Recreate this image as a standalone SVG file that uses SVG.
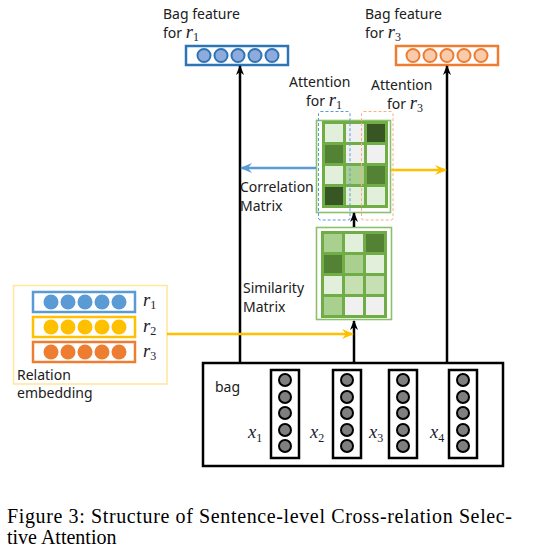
<svg xmlns="http://www.w3.org/2000/svg" width="555" height="553" viewBox="0 0 555 553">
<style>
.lbl{font-family:"Noto Sans","Liberation Sans",sans-serif;font-size:14px;fill:#202020}
.m{font-family:"Liberation Serif",serif;font-style:italic;font-size:18.5px;fill:#1a1a2e}
.sub{font-family:"Liberation Serif",serif;font-style:normal;font-size:12px}
.cap{font-family:"Liberation Serif","Times New Roman",serif;font-size:20px;fill:#000}
.blk{stroke:#000;stroke-width:2.5;fill:none}
.fr{fill:#70AD47}
.outer{fill:none;stroke:#8CC16B;stroke-width:1.6}
.c0{fill:#F0F0F0}.c1{fill:#E2EFDA}.c2{fill:#C6E0B4}.c3{fill:#A9D08E}.c4{fill:#548235}.c5{fill:#375623}
.sent{fill:#fff;stroke:#000;stroke-width:2.5}
.sc{fill:#7F7F7F;stroke:#000;stroke-width:2}
</style>
<defs>
<marker id="ah-k" viewBox="0 0 10 8" refX="9" refY="4" markerWidth="10" markerHeight="8" markerUnits="userSpaceOnUse" orient="auto"><path d="M0,0 L10,4 L0,8 L3,4 z" fill="#000"/></marker>
<marker id="ah-b" viewBox="0 0 12 10" refX="11" refY="5" markerWidth="12" markerHeight="10" markerUnits="userSpaceOnUse" orient="auto"><path d="M0,0 L12,5 L0,10 L4,5 z" fill="#5B9BD5"/></marker>
<marker id="ah-y" viewBox="0 0 12 10" refX="11" refY="5" markerWidth="12" markerHeight="10" markerUnits="userSpaceOnUse" orient="auto"><path d="M0,0 L12,5 L0,10 L4,5 z" fill="#FFC000"/></marker>
</defs>
<rect width="555" height="553" fill="#fff"/>

<g id="bag-feature-r1">
<text class="lbl" x="163" y="19">Bag feature</text>
<text class="lbl" x="163" y="38">for <tspan class="m">r</tspan><tspan class="m sub" dy="3">1</tspan></text>
<rect x="186" y="46" width="102" height="19" fill="#fff" stroke="#2E75B6" stroke-width="2.5"/>
<g fill="#8FAADC" stroke="#2E75B6" stroke-width="2">
<circle cx="204" cy="55.5" r="6.5"/><circle cx="221" cy="55.5" r="6.5"/><circle cx="238" cy="55.5" r="6.5"/><circle cx="255" cy="55.5" r="6.5"/><circle cx="272" cy="55.5" r="6.5"/>
</g>
</g>

<g id="bag-feature-r3">
<text class="lbl" x="365" y="19">Bag feature</text>
<text class="lbl" x="365" y="38">for <tspan class="m">r</tspan><tspan class="m sub" dy="3">3</tspan></text>
<rect x="396" y="46" width="102" height="19" fill="#fff" stroke="#ED7D31" stroke-width="2.5"/>
<g fill="#F8CBAD" stroke="#ED7D31" stroke-width="2">
<circle cx="413" cy="55.5" r="6.5"/><circle cx="430" cy="55.5" r="6.5"/><circle cx="447" cy="55.5" r="6.5"/><circle cx="464" cy="55.5" r="6.5"/><circle cx="481" cy="55.5" r="6.5"/>
</g>
</g>

<g id="correlation-matrix">
<rect class="outer" x="316.5" y="120.5" width="74" height="92"/>
<rect class="fr" x="322" y="121" width="66" height="87"/>
<rect class="c1" x="325" y="124" width="18" height="18"/><rect class="c0" x="346" y="124" width="18" height="18"/><rect class="c5" x="367" y="124" width="18" height="18"/>
<rect class="c4" x="325" y="145" width="18" height="18"/><rect class="c0" x="346" y="145" width="18" height="18"/><rect class="c0" x="367" y="145" width="18" height="18"/>
<rect class="c1" x="325" y="166" width="18" height="18"/><rect class="c3" x="346" y="166" width="18" height="18"/><rect class="c4" x="367" y="166" width="18" height="18"/>
<rect class="c5" x="325" y="187" width="18" height="18"/><rect class="c1" x="346" y="187" width="18" height="18"/><rect class="c1" x="367" y="187" width="18" height="18"/>
<text class="lbl" x="240" y="192">Correlation</text>
<text class="lbl" x="240" y="211">Matrix</text>
</g>

<g id="attention-r1">
<rect x="318.5" y="111.5" width="31.5" height="108.5" rx="2" fill="none" stroke="#5B9BD5" stroke-width="1" stroke-dasharray="3 2"/>
<text class="lbl" x="289" y="87">Attention</text>
<text class="lbl" x="306" y="106">for <tspan class="m">r</tspan><tspan class="m sub" dy="3">1</tspan></text>
</g>

<g id="attention-r3">
<rect x="361.5" y="111.5" width="31.5" height="108.5" rx="2" fill="none" stroke="#F4B183" stroke-width="1" stroke-dasharray="3 2"/>
<text class="lbl" x="371" y="90">Attention</text>
<text class="lbl" x="387" y="109">for <tspan class="m">r</tspan><tspan class="m sub" dy="3">3</tspan></text>
</g>

<g id="similarity-matrix">
<rect class="outer" x="316.5" y="227.5" width="75" height="92"/>
<rect class="fr" x="321" y="231" width="66" height="87"/>
<rect class="c3" x="324" y="234" width="18" height="18"/><rect class="c1" x="345" y="234" width="18" height="18"/><rect class="c4" x="366" y="234" width="18" height="18"/>
<rect class="c4" x="324" y="255" width="18" height="18"/><rect class="c3" x="345" y="255" width="18" height="18"/><rect class="c1" x="366" y="255" width="18" height="18"/>
<rect class="c1" x="324" y="276" width="18" height="18"/><rect class="c2" x="345" y="276" width="18" height="18"/><rect class="c2" x="366" y="276" width="18" height="18"/>
<rect class="c3" x="324" y="297" width="18" height="18"/><rect class="c0" x="345" y="297" width="18" height="18"/><rect class="c0" x="366" y="297" width="18" height="18"/>
<text class="lbl" x="243" y="293">Similarity</text>
<text class="lbl" x="243" y="312">Matrix</text>
</g>

<g id="relation-embedding">
<rect x="13.5" y="285.5" width="153.5" height="98.5" fill="none" stroke="#FFE699" stroke-width="1.5"/>
<rect x="33" y="292" width="102" height="20" fill="#fff" stroke="#5B9BD5" stroke-width="2.5"/>
<g fill="#5B9BD5"><circle cx="51" cy="302" r="7.5"/><circle cx="68" cy="302" r="7.5"/><circle cx="85" cy="302" r="7.5"/><circle cx="102" cy="302" r="7.5"/><circle cx="119" cy="302" r="7.5"/></g>
<rect x="33" y="317" width="102" height="20" fill="#fff" stroke="#FFC000" stroke-width="2.5"/>
<g fill="#FFC000"><circle cx="51" cy="327" r="7.5"/><circle cx="68" cy="327" r="7.5"/><circle cx="85" cy="327" r="7.5"/><circle cx="102" cy="327" r="7.5"/><circle cx="119" cy="327" r="7.5"/></g>
<rect x="33" y="342" width="102" height="20" fill="#fff" stroke="#ED7D31" stroke-width="2.5"/>
<g fill="#ED7D31"><circle cx="51" cy="352" r="7.5"/><circle cx="68" cy="352" r="7.5"/><circle cx="85" cy="352" r="7.5"/><circle cx="102" cy="352" r="7.5"/><circle cx="119" cy="352" r="7.5"/></g>
<text class="m" x="143" y="306">r<tspan class="sub" dy="3">1</tspan></text>
<text class="m" x="143" y="332">r<tspan class="sub" dy="3">2</tspan></text>
<text class="m" x="143" y="357">r<tspan class="sub" dy="3">3</tspan></text>
<text class="lbl" x="17" y="380">Relation</text>
<text class="lbl" x="17" y="398">embedding</text>
</g>

<g id="bag">
<rect x="203" y="363" width="300" height="103" fill="#fff" stroke="#000" stroke-width="2.5"/>
<text class="lbl" x="215" y="392">bag</text>
<g id="x1">
<rect class="sent" x="271" y="370" width="28" height="88"/>
<circle class="sc" cx="285" cy="380" r="6"/><circle class="sc" cx="285" cy="397" r="6"/><circle class="sc" cx="285" cy="413" r="6"/><circle class="sc" cx="285" cy="430" r="6"/><circle class="sc" cx="285" cy="446" r="6"/>
<text class="m" x="248" y="438">x<tspan class="sub" dy="4">1</tspan></text>
</g>
<g id="x2">
<rect class="sent" x="333" y="370" width="28" height="88"/>
<circle class="sc" cx="347" cy="380" r="6"/><circle class="sc" cx="347" cy="397" r="6"/><circle class="sc" cx="347" cy="413" r="6"/><circle class="sc" cx="347" cy="430" r="6"/><circle class="sc" cx="347" cy="446" r="6"/>
<text class="m" x="310" y="438">x<tspan class="sub" dy="4">2</tspan></text>
</g>
<g id="x3">
<rect class="sent" x="389" y="370" width="28" height="88"/>
<circle class="sc" cx="403" cy="380" r="6"/><circle class="sc" cx="403" cy="397" r="6"/><circle class="sc" cx="403" cy="413" r="6"/><circle class="sc" cx="403" cy="430" r="6"/><circle class="sc" cx="403" cy="446" r="6"/>
<text class="m" x="369" y="438">x<tspan class="sub" dy="4">3</tspan></text>
</g>
<g id="x4">
<rect class="sent" x="449" y="370" width="28" height="88"/>
<circle class="sc" cx="463" cy="380" r="6"/><circle class="sc" cx="463" cy="397" r="6"/><circle class="sc" cx="463" cy="413" r="6"/><circle class="sc" cx="463" cy="430" r="6"/><circle class="sc" cx="463" cy="446" r="6"/>
<text class="m" x="430" y="438">x<tspan class="sub" dy="4">4</tspan></text>
</g>
</g>

<g id="connectors">
<line class="blk" x1="240" y1="362" x2="240" y2="66" marker-end="url(#ah-k)"/>
<line class="blk" x1="447" y1="362" x2="447" y2="66" marker-end="url(#ah-k)"/>
<line class="blk" x1="354" y1="362" x2="354" y2="321" marker-end="url(#ah-k)"/>
<line class="blk" x1="354" y1="227" x2="354" y2="213" marker-end="url(#ah-k)"/>
<line x1="316" y1="168" x2="241" y2="168" stroke="#5B9BD5" stroke-width="2.5" marker-end="url(#ah-b)"/>
<line x1="391" y1="170" x2="446" y2="170" stroke="#FFC000" stroke-width="2.5" marker-end="url(#ah-y)"/>
<line x1="167" y1="334" x2="353" y2="334" stroke="#FFC000" stroke-width="2.5" marker-end="url(#ah-y)"/>
</g>

<g id="caption">
<text class="cap" x="7" y="523" textLength="505" lengthAdjust="spacing">Figure 3: Structure of Sentence-level Cross-relation Selec-</text>
<text class="cap" x="7" y="544">tive Attention</text>
</g>
</svg>
